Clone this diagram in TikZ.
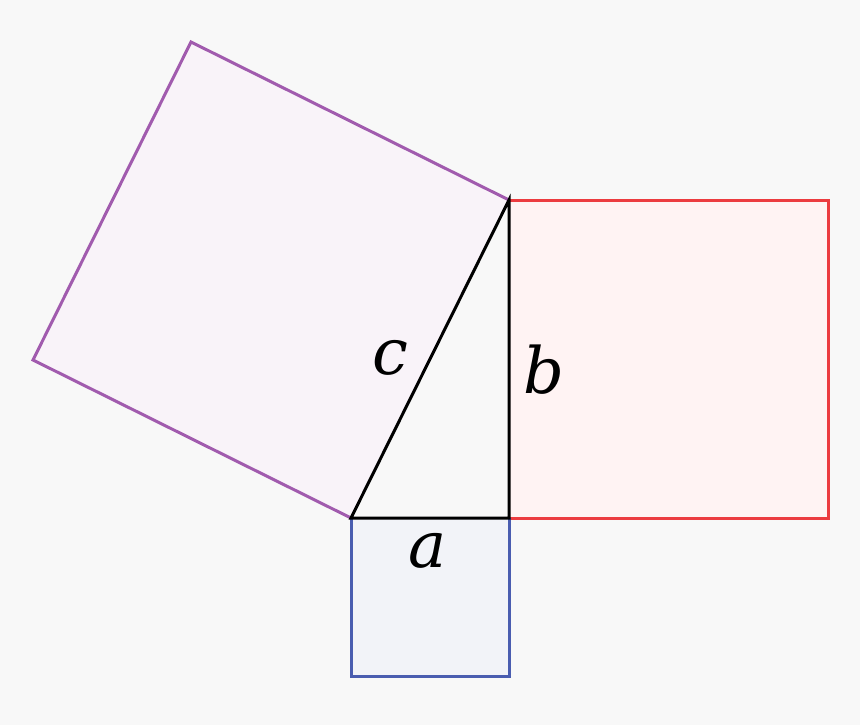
\documentclass[tikz,border=0pt]{standalone}
\usepackage{fontspec}
\newfontfamily\lblfont{DejaVu Serif}
\definecolor{bgc}{HTML}{F8F8F8}
\definecolor{purst}{HTML}{A15BAE}
\definecolor{purfi}{HTML}{F9F3F9}
\definecolor{redst}{HTML}{EC3B3F}
\definecolor{redfi}{HTML}{FFF3F3}
\definecolor{blust}{HTML}{4A5DB0}
\definecolor{blufi}{HTML}{F2F3F8}
\begin{document}
\begin{tikzpicture}[x=1pt,y=-1pt,
  sq/.style={line width=3pt, line join=miter},
  tri/.style={line width=3pt, black, line join=miter},
  lbl/.style={font=\lblfont\itshape\fontsize{64}{76}\selectfont, inner sep=0pt, text=black}]
\fill[bgc] (0,0) rectangle (860,725);
\useasboundingbox (0,0) rectangle (860,725);
\coordinate (A) at (351,518);
\coordinate (B) at (509,518);
\coordinate (C) at (509,200);
\coordinate (P1) at (33,360);
\coordinate (P2) at (191,42);
\coordinate (R1) at (828,200);
\coordinate (R2) at (828,518);
\coordinate (Q1) at (351,676);
\coordinate (Q2) at (509,676);
\draw[sq, draw=purst, fill=purfi] (C) -- (P2) -- (P1) -- (A);
\draw[sq, draw=redst, fill=redfi] (C) -- (R1) -- (R2) -- (B);
\draw[sq, draw=blust, fill=blufi] (A) -- (Q1) -- (Q2) -- (B);
\draw[tri] (A) -- (B) -- (C) -- cycle;
\node[lbl] (lc) at (390,358) {c};
\node[lbl] (lb) at (544,370) {b};
\node[lbl] (la) at (428,551) {a};
\end{tikzpicture}
\end{document}
